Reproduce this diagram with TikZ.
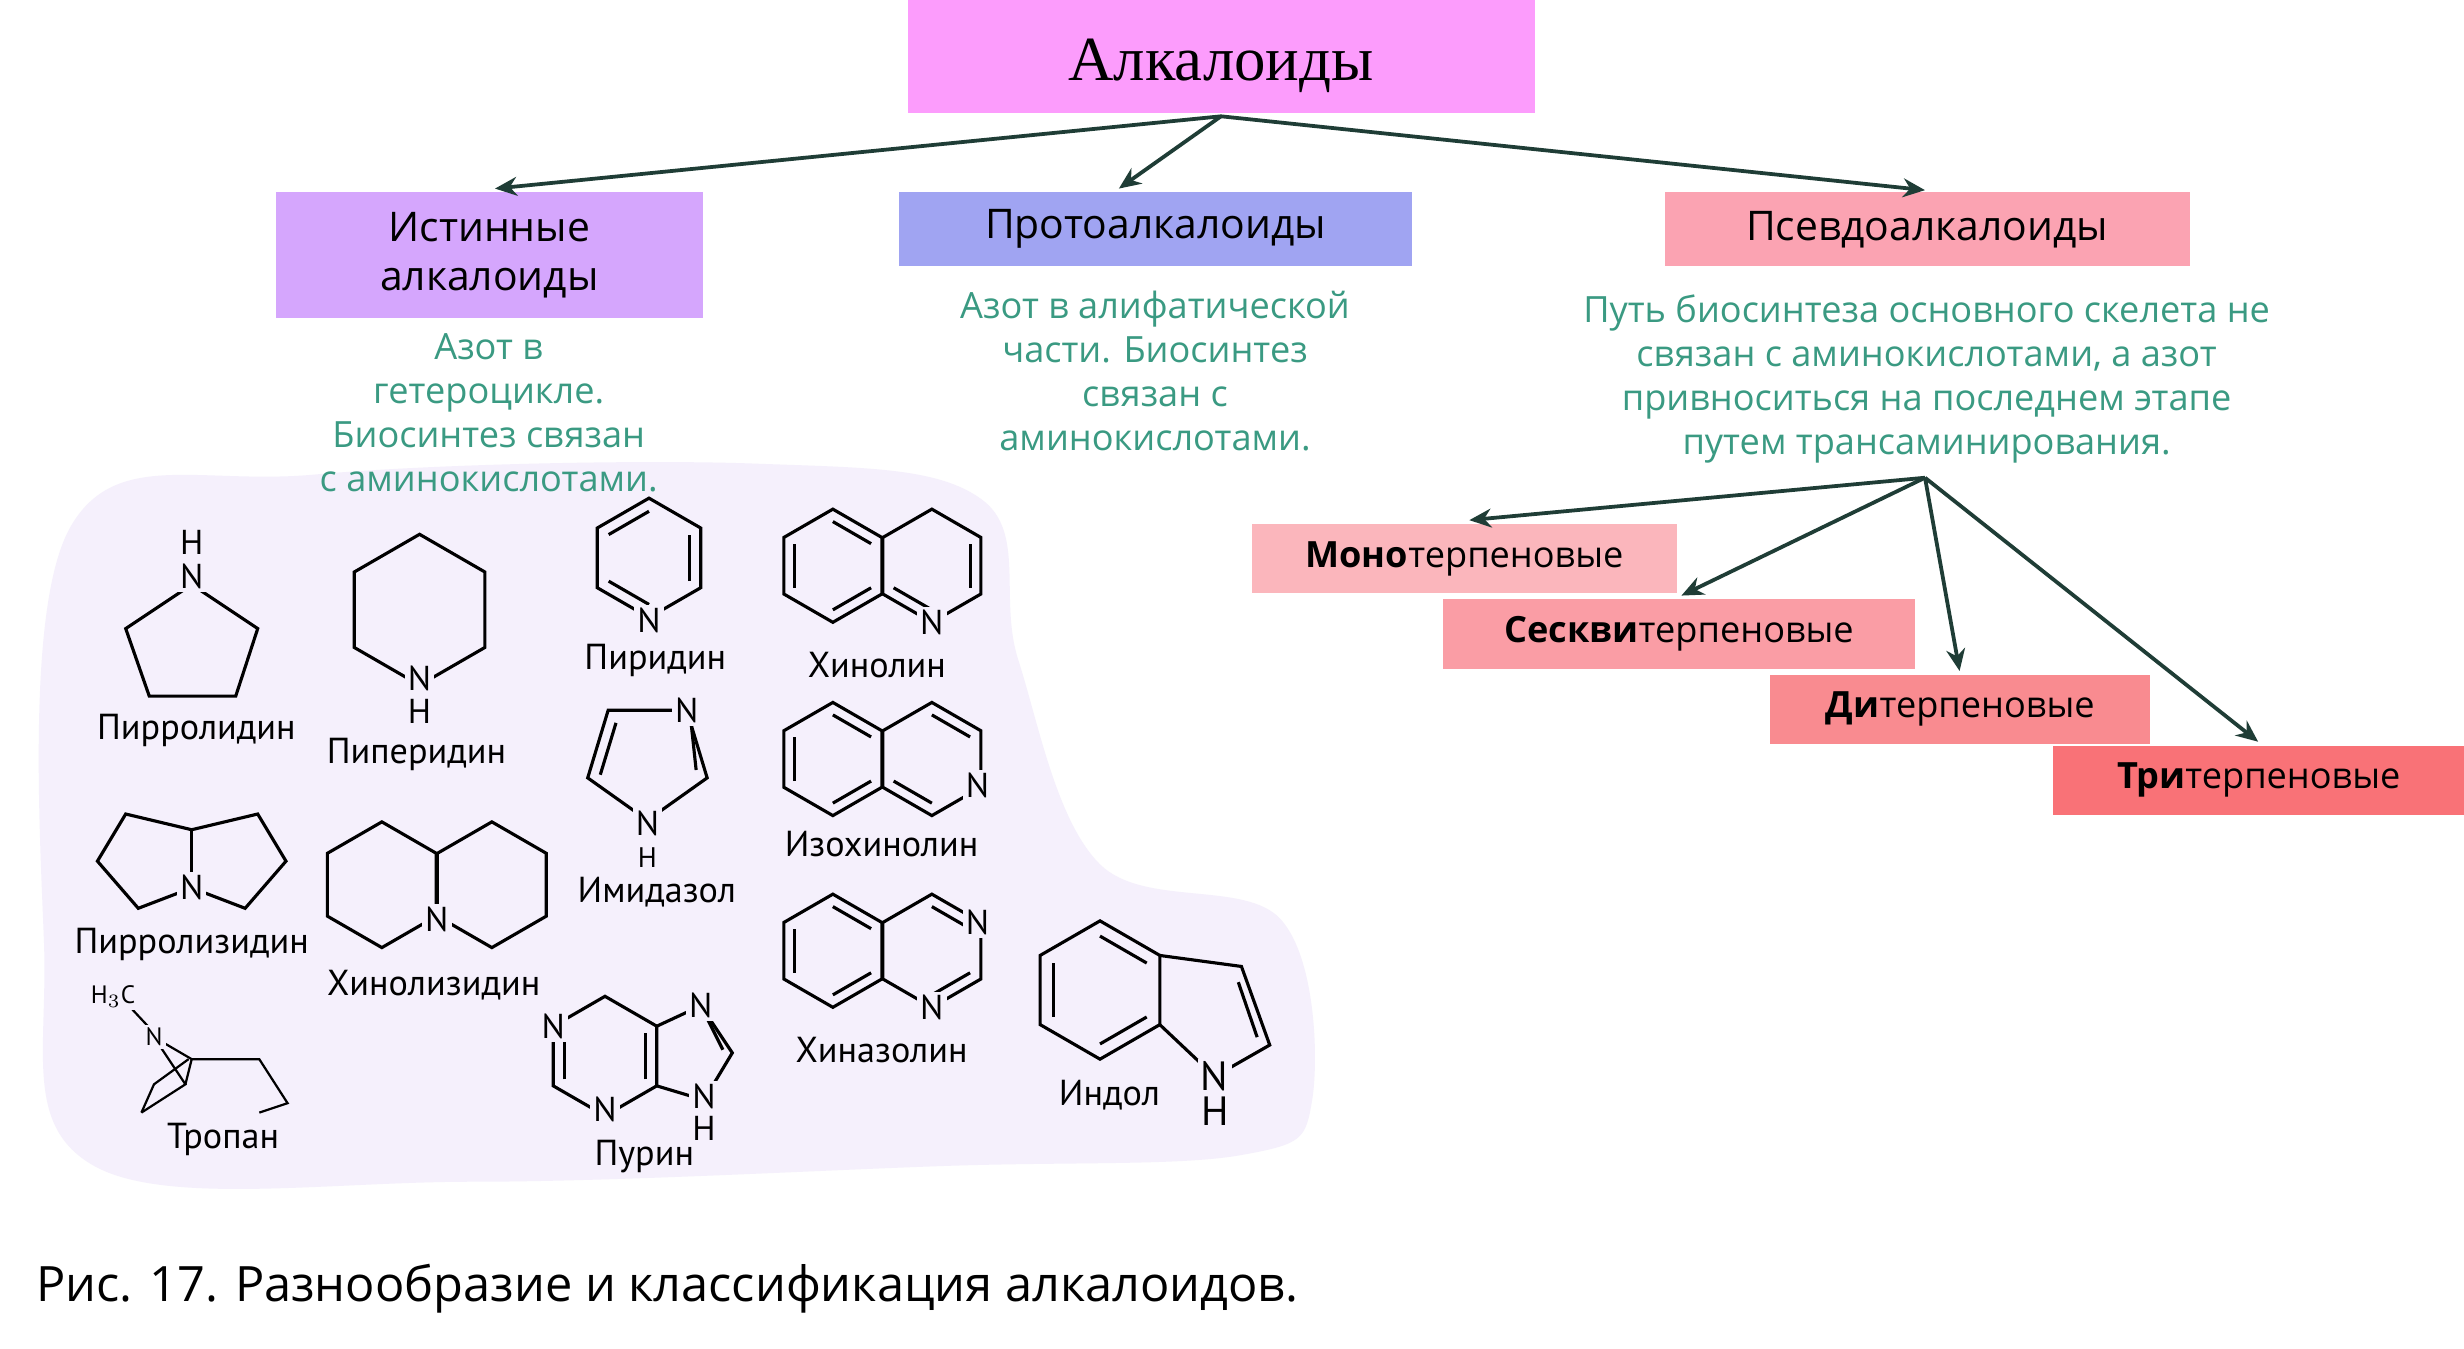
\documentclass[tikz,border=0pt]{standalone}
\usepackage{fontspec}
\setmainfont{Open Sans}
\newfontfamily\titlefont{Liberation Serif}
\newfontfamily\chemfont{PT Sans}
\usetikzlibrary{arrows.meta}
\definecolor{arr}{HTML}{1F3D36}
\definecolor{teal}{HTML}{3A9A82}
\definecolor{blobc}{HTML}{F5F0FC}
\tikzset{
 x=0.5pt,y=-0.5pt,
 con/.style={draw=arr,line width=1.2pt,-{Stealth[length=7pt,width=6pt]}},
 box/.style={anchor=north west,inner sep=0pt,font=\fontsize{13}{15.5}\selectfont,align=center},
 note/.style={text=teal,font=\fontsize{11.5}{14}\selectfont,align=center},
 terp/.style={anchor=north west,inner sep=0pt},
 bond/.style={draw=black,line width=1pt},
 atm/.style={fill=blobc,inner sep=1pt,font=\chemfont\fontsize{11}{11}\selectfont},
 lab/.style={font=\chemfont\fontsize{11.5}{12}\selectfont},
}
\newcommand{\hexa}[3]{\draw[bond,shift={(#1,#2)}] (90:#3)--(30:#3)--(-30:#3)--(-90:#3)--(-150:#3)--(150:#3)--cycle;}
\newcommand{\ib}[5]{\draw[bond,shift={(#1,#2)}] (#4:0.78*#3)--(#5:0.78*#3);}
\begin{document}
\begin{tikzpicture}
\useasboundingbox (0,0) rectangle (1568,858);
\fill[white] (0,0) rectangle (1568,858);
% blob
\fill[blobc] plot[smooth cycle,tension=0.6] coordinates {(45,335) (200,302) (480,295) (625,318) (648,420) (700,550) (815,585) (835,700) (790,735) (600,742) (300,752) (60,742) (28,600)};
% title
\fill[fill={rgb,255:red,252;green,156;blue,252}] (578,0) rectangle (977,72);
\node[font=\titlefont\fontsize{20}{24}\selectfont] (t) at (777,42) {Алкалоиды};
\coordinate (tb) at (777,74);
\node[box,fill={rgb,255:red,213;green,166;blue,253},minimum width=136pt,minimum height=40pt] (b1) at (175,122) {Истинные\\алкалоиды};
\node[box,fill={rgb,255:red,160;green,164;blue,242},minimum width=163pt,minimum height=23.5pt] (b2) at (572,122) {Протоалкалоиды};
\node[box,fill={rgb,255:red,251;green,163;blue,178},minimum width=167pt,minimum height=23.5pt] (b3) at (1059,122) {Псевдоалкалоиды};
\draw[con] (tb) -- (315,120);
\draw[con] (tb) -- (712,120);
\draw[con] (tb) -- (1225,121);
\node[note] (n1) at (311,263) {Азот в\\гетероцикле.\\Биосинтез связан\\с аминокислотами.};
\node[note] (n2) at (735,236) {Азот в алифатической\\части. Биосинтез\\связан с\\аминокислотами.};
\node[note] (n3) at (1226,241) {Путь биосинтеза основного скелета не\\связан с аминокислотами, а азот\\привноситься на последнем этапе\\путем трансаминирования.};
\coordinate (p) at (1225,304);
\node[terp,fill={rgb,255:red,251;green,182;blue,188},minimum width=135.5pt,minimum height=22pt] (m1) at (796,333) {};
\node at (m1) {\fontsize{11.5}{13}\selectfont\textbf{Моно}терпеновые};
\node[terp,fill={rgb,255:red,250;green,157;blue,165},minimum width=150pt,minimum height=22pt] (m2) at (918,381) {};
\node at (m2) {\fontsize{11.5}{13}\selectfont\textbf{Сескви}терпеновые};
\node[terp,fill={rgb,255:red,249;green,139;blue,144},minimum width=121pt,minimum height=22pt] (m3) at (1126,429) {};
\node at (m3) {\fontsize{11.5}{13}\selectfont\textbf{Ди}терпеновые};
\node[terp,fill={rgb,255:red,249;green,114;blue,119},minimum width=131pt,minimum height=22pt] (m4) at (1306,474) {};
\node at (m4) {\fontsize{11.5}{13}\selectfont\textbf{Три}терпеновые};
\draw[con] (p) -- (935,331);
\draw[con] (p) -- (1070,379);
\draw[con] (p) -- (1247,427);
\draw[con] (p) -- (1437,472);
% caption
\node[anchor=west,font=\fontsize{15.5}{18}\selectfont] (cap) at (16,820) {Рис. 17. Разнообразие и классификация алкалоидов.};
% pyrrolidine
\draw[bond] (122,372)--(164,400)--(150,443)--(95,443)--(80,400)--cycle;
\node[atm] at (122,367) {N}; \node[atm] at (122,345) {H};
\node[lab] at (125,465) {Пирролидин};
% piperidine
\hexa{267}{388}{48}
\node[atm] at (267,432) {N}; \node[atm] at (267,453) {H};
\node[lab] at (265,480) {Пиперидин};
% pyridine
\hexa{413}{355}{38}
\ib{413}{355}{38}{150}{90} \ib{413}{355}{38}{30}{-30} \ib{413}{355}{38}{-90}{-150}
\node[atm] at (413,395) {N};
\node[lab] at (417,420) {Пиридин};
% quinoline
\hexa{530}{360}{36}\hexa{593}{360}{36}
\ib{530}{360}{36}{150}{210} \ib{530}{360}{36}{90}{30} \ib{530}{360}{36}{-30}{-90}
\ib{593}{360}{36}{150}{90} \ib{593}{360}{36}{30}{-30}
\node[atm] at (593,396) {N};
\node[lab] at (558,423) {Хинолин};
% imidazole
\draw[bond] (387,452)--(437,452)--(450,495)--(412,522)--(374,495)--cycle;
\draw[bond] (392,460)--(382,493);
\draw[bond] (440,462)--(443,490);
\node[atm] at (437,452) {N}; \node[atm] at (412,524) {N}; \node[atm,font=\chemfont\fontsize{9}{9}\selectfont] at (412,546) {H};
\node[lab] at (418,568) {Имидазол};
% isoquinoline
\hexa{530}{483}{36}\hexa{593}{483}{36}
\ib{530}{483}{36}{150}{210} \ib{530}{483}{36}{90}{30} \ib{530}{483}{36}{-30}{-90}
\ib{593}{483}{36}{150}{90} \ib{593}{483}{36}{-30}{-90}
\node[atm] at (622,500) {N};
\node[lab] at (561,537) {Изохинолин};
% pyrrolizidine
\draw[bond] (122,565)--(88,578)--(62,548)--(80,518)--(122,528)--(164,518)--(182,548)--(156,578)--cycle;
\draw[bond] (122,528)--(122,565);
\node[atm] at (122,565) {N};
\node[lab] at (122,601) {Пирролизидин};
% quinolizidine
\hexa{243}{563}{40}\hexa{313}{563}{40}
\node[atm] at (278,585) {N};
\node[lab] at (276,627) {Хинолизидин};
% tropane
\draw[bond,line width=0.7pt] (98,660)--(118,690)--(90,708);
\draw[bond,line width=0.7pt] (118,690)--(122,674)--(165,674)--(183,702)--(165,708);
\draw[bond,line width=0.7pt] (98,660)--(122,674);
\draw[bond,line width=0.7pt] (90,708)--(98,690)--(120,674);
\draw[bond,line width=0.7pt] (82,640)--(96,655);
\node[atm,font=\chemfont\fontsize{8}{8}\selectfont] at (98,660) {N};
\node[atm,font=\chemfont\fontsize{8}{8}\selectfont] at (72,634) {H$_3$C};
\node[lab] at (142,725) {Тропан};
% purine
\hexa{385}{672}{38}
\draw[bond] (418,653)--(446,640)--(466,670)--(448,700)--(418,691);
\ib{385}{672}{38}{150}{210} \ib{385}{672}{38}{30}{-30}
\draw[bond] (450,648)--(460,668);
\node[atm] at (352,653) {N}; \node[atm] at (385,706) {N}; \node[atm] at (446,640) {N}; \node[atm] at (448,698) {N}; \node[atm] at (448,718) {H};
\node[lab] at (410,736) {Пурин};
% quinazoline
\hexa{530}{605}{36}\hexa{593}{605}{36}
\ib{530}{605}{36}{150}{210} \ib{530}{605}{36}{90}{30} \ib{530}{605}{36}{-30}{-90}
\ib{593}{605}{36}{90}{30} \ib{593}{605}{36}{-30}{-90}
\node[atm] at (622,587) {N}; \node[atm] at (593,641) {N};
\node[lab] at (561,668) {Хиназолин};
% indole
\hexa{700}{630}{44}
\ib{700}{630}{44}{150}{210} \ib{700}{630}{44}{90}{30} \ib{700}{630}{44}{-30}{-90}
\draw[bond] (738,608)--(790,615)--(808,665)--(773,685)--(738,652);
\draw[bond] (788,625)--(800,660);
\node[atm,font=\chemfont\fontsize{13}{13}\selectfont] at (773,685) {N}; \node[atm,font=\chemfont\fontsize{13}{13}\selectfont] at (773,707) {H};
\node[lab] at (706,697) {Индол};
\end{tikzpicture}
\end{document}
